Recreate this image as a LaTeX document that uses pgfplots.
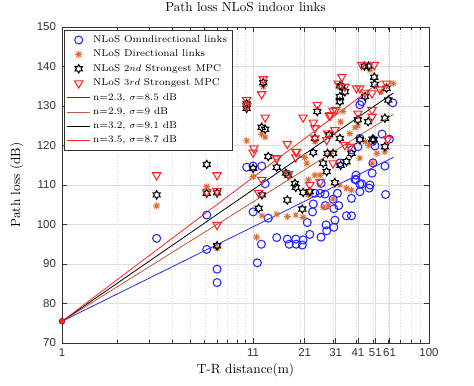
\documentclass[border=0pt]{standalone}
\usepackage{pgfplots}
\pgfplotsset{compat=1.18}
\usepackage{fontspec}
\newfontfamily\ticksans{Liberation Sans}
\definecolor{mblue}{rgb}{0.15,0.15,1}
\definecolor{morange}{rgb}{0.88,0.42,0.2}
\definecolor{mbrown}{rgb}{0.72,0.36,0.22}
\definecolor{mred}{rgb}{1,0.15,0.15}
\pgfdeclareplotmark{hexagram}{%
  \pgfpathmoveto{\pgfpointpolar{90}{\pgfplotmarksize}}%
  \pgfpathlineto{\pgfpointpolar{120}{0.577\pgfplotmarksize}}%
  \pgfpathlineto{\pgfpointpolar{150}{\pgfplotmarksize}}%
  \pgfpathlineto{\pgfpointpolar{180}{0.577\pgfplotmarksize}}%
  \pgfpathlineto{\pgfpointpolar{210}{\pgfplotmarksize}}%
  \pgfpathlineto{\pgfpointpolar{240}{0.577\pgfplotmarksize}}%
  \pgfpathlineto{\pgfpointpolar{270}{\pgfplotmarksize}}%
  \pgfpathlineto{\pgfpointpolar{300}{0.577\pgfplotmarksize}}%
  \pgfpathlineto{\pgfpointpolar{330}{\pgfplotmarksize}}%
  \pgfpathlineto{\pgfpointpolar{0}{0.577\pgfplotmarksize}}%
  \pgfpathlineto{\pgfpointpolar{30}{\pgfplotmarksize}}%
  \pgfpathlineto{\pgfpointpolar{60}{0.577\pgfplotmarksize}}%
  \pgfpathclose
  \pgfusepathqstroke}
\pgfdeclareplotmark{ast8}{%
  \pgfpathmoveto{\pgfpoint{-\pgfplotmarksize}{0pt}}\pgfpathlineto{\pgfpoint{\pgfplotmarksize}{0pt}}%
  \pgfpathmoveto{\pgfpoint{0pt}{-\pgfplotmarksize}}\pgfpathlineto{\pgfpoint{0pt}{\pgfplotmarksize}}%
  \pgfpathmoveto{\pgfpoint{-0.707\pgfplotmarksize}{-0.707\pgfplotmarksize}}\pgfpathlineto{\pgfpoint{0.707\pgfplotmarksize}{0.707\pgfplotmarksize}}%
  \pgfpathmoveto{\pgfpoint{-0.707\pgfplotmarksize}{0.707\pgfplotmarksize}}\pgfpathlineto{\pgfpoint{0.707\pgfplotmarksize}{-0.707\pgfplotmarksize}}%
  \pgfusepathqstroke}
\begin{document}
\begin{tikzpicture}
\begin{axis}[
  scale only axis, width=275.25pt, height=237pt,
  xmode=log, xmin=1, xmax=100, ymin=70, ymax=150,
  xtick={1,11,21,31,41,51,61,100},
  xticklabels={1,11,21,31,41,51,61,100},
  minor xtick={2,3,4,5,6,7,8,9,10,20,30,40,50,60,70,80,90},
  ytick={70,80,90,100,110,120,130,140,150},
  yticklabels={70,80,90,100,110,120,130,140,150},
  tick label style={font=\ticksans\fontsize{8.6}{9.6}\selectfont, text=black!80},
  xticklabel style={inner sep=1pt, yshift=-3pt},
  yticklabel style={xshift=-1pt},
  xmajorgrids, ymajorgrids, xminorgrids,
  major grid style={gray!25, line width=0.4pt},
  minor grid style={gray!35, dotted, line width=0.4pt},
  axis line style={black!80, line width=0.5pt},
  tick style={black!80, line width=0.5pt},
  major tick length=3.5pt, minor tick length=2pt,
  title={Path loss NLoS indoor links},
  title style={font=\fontsize{9.8}{11}\selectfont, at={(axis description cs:0.5,1.038)}, anchor=center},
  xlabel={T-R distance(m)},
  ylabel={Path loss (dB)},
  label style={font=\fontsize{10}{11}\selectfont},
  xlabel style={at={(axis description cs:0.5,-0.085)}, anchor=center},
  ylabel style={at={(axis description cs:-0.123,0.5)}, anchor=center},
  legend style={at={(0.006,0.99)}, anchor=north west, draw=black!80, fill=white,
    font=\fontsize{7.4}{8.6}\selectfont, row sep=0.1pt, inner sep=1.8pt, line width=0.5pt},
  legend cell align=left,
]
\addplot[only marks, mark=o, mark size=3pt, mblue, line width=0.8pt] table {
x y
3.28 96.5
6.15 102.4
6.15 93.7
7.0 88.7
7.0 85.3
10.15 114.5
11.0 114.8
12.25 114.8
12.8 110.3
11.0 103.2
13.3 101.6
12.2 95.0
11.6 90.3
14.8 96.7
16.9 96.3
17.3 95.0
18.8 96.3
18.9 95.0
20.6 96.1
20.4 94.8
22.4 97.5
21.7 100.5
23.2 103.2
23.4 105.2
25.8 96.8
27.7 98.4
27.5 99.9
30.7 101.1
30.3 99.3
27.2 104.8
30.3 104.0
32.2 104.8
35.5 102.2
37.8 102.2
23.9 107.9
25.5 107.9
27.1 107.7
30.0 106.4
31.7 107.9
25.8 110.4
39.5 111.4
42.0 110.2
47.7 110.0
47.2 109.2
42.0 108.3
37.8 106.6
49.0 113.0
49.5 115.6
57.5 114.8
58.0 107.6
43.0 131.1
63.5 130.8
55.5 122.9
60.8 121.6
49.2 121.0
50.8 119.9
42.0 121.8
41.0 119.7
40.0 111.4
43.0 110.3
40.0 112.5
38.0 118.9
32.7 115.6
42.0 130.3
};
\addlegendentry{NLoS Omndirectional links}
\addplot[only marks, mark=ast8, mark size=2.6pt, morange, line width=0.7pt] table {
x y
3.28 104.7
6.15 109.6
7.0 94.0
10.15 121.2
10.15 131.0
12.5 134.9
12.8 122.1
12.25 122.9
11.0 112.1
11.5 96.8
12.3 102.2
14.8 102.6
16.9 102.0
18.8 102.4
20.6 101.8
26.5 104.4
28.3 104.7
30.0 106.4
32.7 110.0
35.5 109.2
37.8 108.7
22.0 107.5
23.9 112.5
25.5 112.5
21.6 115.5
22.0 111.3
42.0 116.8
49.0 115.5
57.5 118.4
34.0 128.6
41.0 125.0
39.5 124.5
47.7 139.1
55.0 133.6
63.8 135.7
33.0 126.0
37.0 123.0
29.0 118.0
45.0 121.0
24.0 121.0
21.0 117.0
47.0 120.0
52.0 118.0
};
\addlegendentry{NLoS Directional links}
\addplot[only marks, mark=hexagram, mark size=3.1pt, black, line width=0.8pt] table {
x y
3.28 107.5
6.15 115.2
6.15 107.9
7.0 108.0
7.0 94.6
10.15 129.4
10.15 130.5
12.5 135.9
12.25 124.6
12.8 124.1
13.3 117.2
14.8 114.5
17.1 112.5
24.6 128.6
28.6 122.7
33.5 134.9
32.7 132.4
32.7 131.1
44.5 140.1
46.8 140.1
50.3 137.3
50.5 135.5
58.7 134.5
32.7 135.1
34.8 133.6
44.8 132.4
60.0 131.5
46.6 126.0
57.5 126.9
41.0 126.5
50.0 121.5
57.5 119.7
42.0 121.5
32.7 121.8
49.2 121.6
11.8 104.1
16.9 106.2
20.4 103.9
18.8 109.4
18.6 110.4
20.6 108.1
22.4 108.3
16.6 113.0
11.0 114.2
12.3 107.5
23.4 118.2
26.5 115.5
27.7 113.4
30.7 110.6
28.0 118.0
30.0 118.0
37.8 118.0
35.5 115.9
33.0 115.0
23.9 121.8
};
\addlegendentry{NLoS $2nd$ Strongest MPC}
\addplot[only marks, mark=triangle, mark size=3.6pt, mark options={rotate=180}, mred, line width=0.8pt] table {
x y
3.28 112.5
6.15 120.4
7.0 112.5
7.0 108.5
7.0 99.9
6.15 108.3
10.15 131.5
10.15 130.0
12.5 136.8
12.25 133.0
12.8 127.1
11.1 119.3
11.0 118.2
16.9 120.4
14.8 116.8
19.0 118.4
20.6 127.1
23.4 125.8
24.6 130.3
28.6 127.5
30.0 128.8
23.9 124.4
23.9 121.8
27.7 121.4
33.5 137.4
34.8 134.9
43.0 140.4
50.3 140.4
58.7 135.7
54.0 134.2
48.9 133.2
32.0 135.7
40.3 134.5
42.0 134.5
44.8 133.4
29.0 127.7
31.0 129.0
48.9 129.0
41.0 128.1
48.9 127.3
30.7 123.9
59.5 121.6
28.0 123.1
34.8 120.1
37.1 119.7
14.8 116.7
18.8 118.4
22.4 110.0
18.8 117.0
11.8 108.0
12.3 111.3
17.1 112.8
25.5 110.8
30.0 115.5
};
\addlegendentry{NLoS $3rd$ Strongest MPC}
\addplot[mblue, line width=0.6pt] coordinates {(1,75.5) (64,117.0)};
\addlegendentry{n=2.3, $\sigma$=8.5 dB}
\addplot[mbrown, line width=0.6pt] coordinates {(1,75.5) (64,127.9)};
\addlegendentry{n=2.9, $\sigma$=9 dB}
\addplot[black, line width=0.6pt] coordinates {(1,75.5) (64,133.3)};
\addlegendentry{n=3.2, $\sigma$=9.1 dB}
\addplot[mred, line width=0.6pt] coordinates {(1,75.5) (55,136.4)};
\addlegendentry{n=3.5, $\sigma$=8.7 dB}
\addplot[only marks, mark=*, mark size=2.2pt, draw=red!60!black, fill=mred, forget plot] coordinates {(1,75.5)};
\end{axis}
\pgfresetboundingbox
\path[use as bounding box] (-46.5pt,-31.5pt) rectangle (309pt,257.25pt);
\end{tikzpicture}
\end{document}
